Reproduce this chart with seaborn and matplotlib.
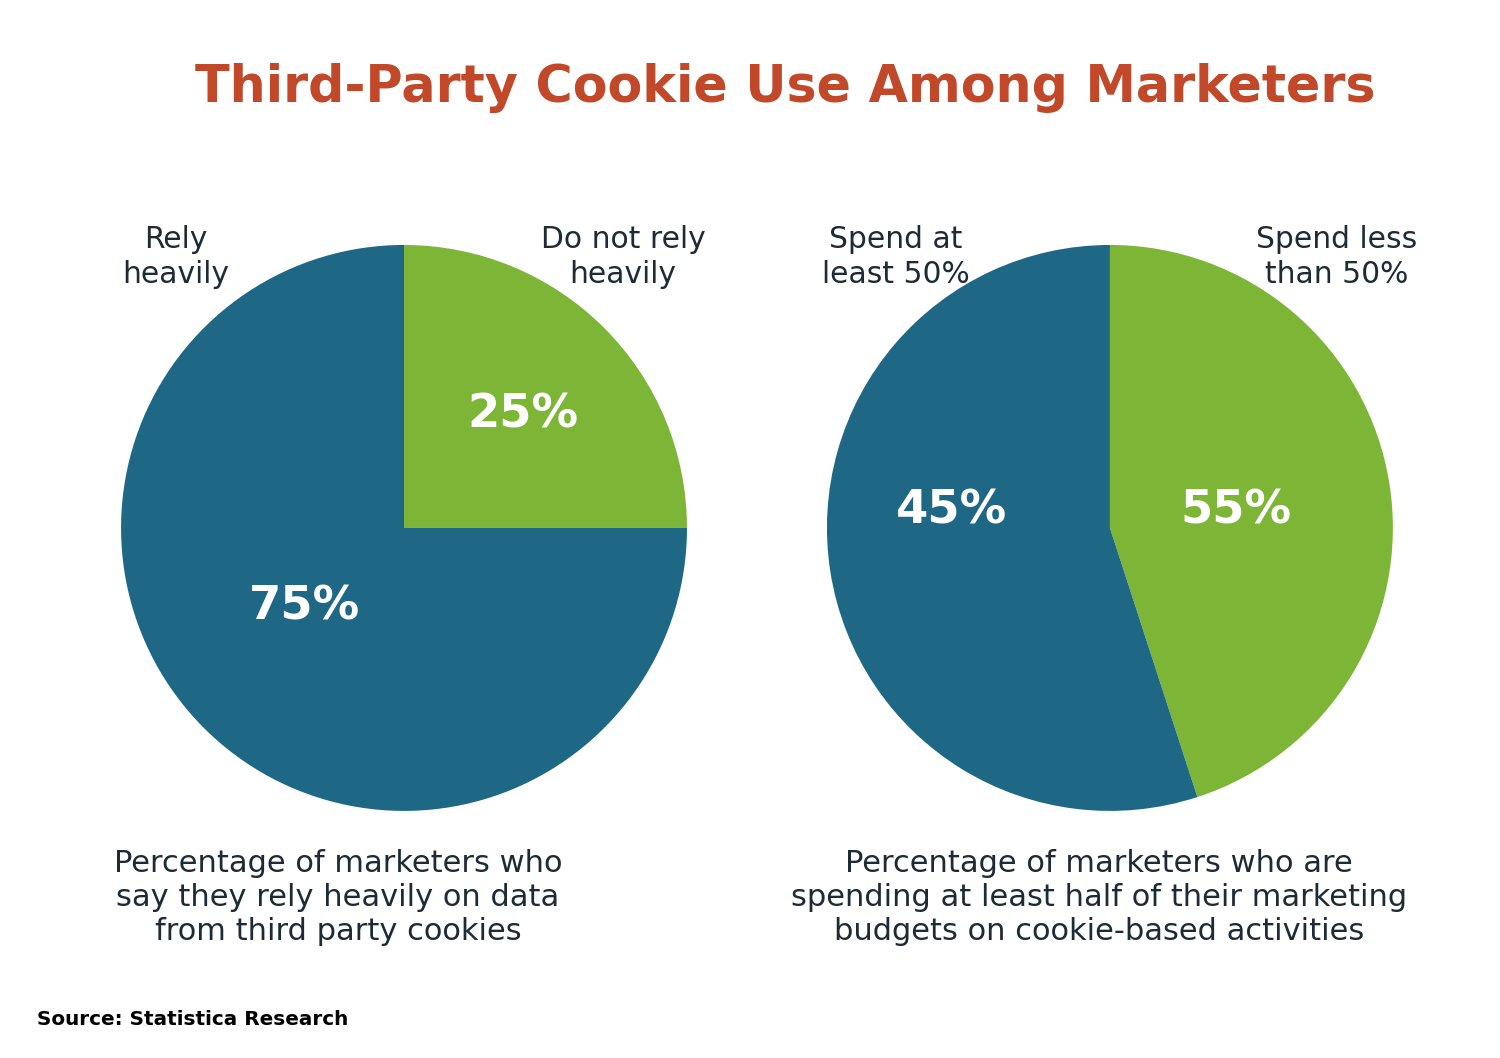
import matplotlib.pyplot as plt
import seaborn as sns

title = "Third-Party Cookie Use Among Marketers"

# left pie: wedges clockwise from 12 o'clock
left_labels = ["Do not rely\nheavily", "Rely\nheavily"]
left_shares = [25, 75]
left_pct = ["25%", "75%"]

# right pie, wedge sizes as drawn in the source graphic
right_labels = ["Spend less\nthan 50%", "Spend at\nleast 50%"]
right_shares = [45, 55]
right_pct = ["55%", "45%"]

left_caption = "Percentage of marketers who\nsay they rely heavily on data\nfrom third party cookies"
right_caption = "Percentage of marketers who are\nspending at least half of their marketing\nbudgets on cookie-based activities"
source = "Source: Statistica Research"

sns.set_theme(style="white")
plt.rcParams["font.family"] = ["DejaVu Sans"]
colors = sns.color_palette(["#7db637", "#1f6885"])
text_col = "#1c2b36"

fig = plt.figure(figsize=(15, 10.58), dpi=100)
fig.patch.set_facecolor("white")

ax_l = fig.add_axes([0.0807, 0.2335, 0.3773, 0.535])
ax_r = fig.add_axes([0.5513, 0.2335, 0.3773, 0.535])

for ax, shares, labels, pct, lab_pos, pct_pos in [
    (ax_l, left_shares, left_labels, left_pct,
     [(0.774, 0.958), (-0.806, 0.958)], [(0.42, 0.40), (-0.35, -0.28)]),
    (ax_r, right_shares, right_labels, right_pct,
     [(0.80, 0.958), (-0.756, 0.958)], [(0.445, 0.06), (-0.56, 0.06)]),
]:
    ax.pie(shares, colors=colors, startangle=90, counterclock=False,
           radius=1, wedgeprops=dict(linewidth=0))
    ax.set_xlim(-1, 1)
    ax.set_ylim(-1, 1)
    ax.set_aspect("equal")
    ax.axis("off")
    for (x, y), t in zip(lab_pos, labels):
        ax.text(x, y, t, ha="center", va="center", fontsize=21.4,
                color=text_col, linespacing=1.27, clip_on=False)
    for (x, y), t in zip(pct_pos, pct):
        ax.text(x, y, t, ha="center", va="center", fontsize=33.5,
                fontweight="bold", color="white")

fig.text(0.5233, 0.917, title, ha="center", va="center", fontsize=36.5,
         fontweight="bold", color="#c1492a")
fig.text(0.2253, 0.152, left_caption, ha="center", va="center",
         fontsize=22, color=text_col, linespacing=1.21)
fig.text(0.7327, 0.152, right_caption, ha="center", va="center",
         fontsize=22, color=text_col, linespacing=1.21)
fig.text(0.0247, 0.036, source, ha="left", va="center", fontsize=14.4,
         fontweight="bold", color="black")

fig.savefig("out.png", dpi=100, facecolor="white")
